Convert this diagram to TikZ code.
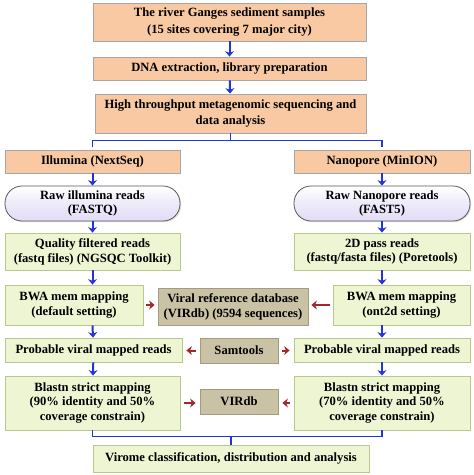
\documentclass[tikz,border=0pt]{standalone}
\usepackage{fontspec}
\setmainfont{Liberation Serif}
\usepackage{xcolor}
\usetikzlibrary{arrows.meta,shapes,calc,positioning,shadows}
\definecolor{peach}{HTML}{F8C9A2}
\definecolor{leaf}{HTML}{EEF5D2}
\definecolor{leafline}{HTML}{B9C98E}
\definecolor{lilac}{HTML}{E2DCF6}
\definecolor{khaki}{HTML}{C9C2A5}
\definecolor{khakiline}{HTML}{A39C80}
\definecolor{flowblue}{HTML}{2435D8}
\definecolor{dbred}{HTML}{A3282C}

\begin{document}
\begin{tikzpicture}[x=1pt, y=-1pt]
			\tikzstyle{every node}=[font=\fontsize{12.6}{14.8}\selectfont\bfseries, align=center, inner sep=0pt]
			\tikzstyle{big}=[font=\fontsize{12.6}{16.5}\selectfont\bfseries]
			\tikzstyle{box}=[draw, line width=0.8pt, drop shadow={opacity=0.25, shadow xshift=1.2pt, shadow yshift=-1.2pt}]
			\tikzstyle{stepbox}=[box, fill=peach, draw=gray!70]
			\tikzstyle{readbox}=[box, fill=leaf, draw=leafline]
			\tikzstyle{rawbox}=[box, rounded corners=17pt, top color=white, bottom color=lilac, middle color=lilac!60, draw=gray!70!black]
			\tikzstyle{dbbox}=[box, fill=khaki, draw=khakiline]
			\tikzstyle{flow}=[line width=2pt, flowblue, -{Stealth[length=5.5pt, width=9pt]}]
			\tikzstyle{dblink}=[line width=2pt, dbred, -{Stealth[length=5.5pt, width=9pt]}]
			\tikzstyle{bracket}=[line width=1.5pt, flowblue]
			\useasboundingbox (0,0) rectangle (474,475);
			% common trunk
			\node [stepbox, big, minimum width=273pt, minimum height=38pt] (samples) at (229.5,22) {The river Ganges sediment samples\\(15 sites covering 7 major city)};
			\node [stepbox, big, minimum width=273pt, minimum height=23pt] (dna) at (229.5,68.5) {DNA extraction, library preparation};
			\node [stepbox, big, minimum width=271pt, minimum height=39pt] (hts) at (230.5,113.5) {High throughput metagenomic sequencing and\\data analysis};
			% illumina branch
			\node [stepbox, minimum width=175pt, minimum height=23pt] (illu) at (92.5,161.5) {Illumina (NextSeq)};
			\node [rawbox, minimum width=175pt, minimum height=35pt] (rawil) at (92.5,203.5) {Raw illumina reads\\(FASTQ)};
			\node [readbox, minimum width=175pt, minimum height=37pt] (qual) at (92.5,251.5) {Quality filtered reads\\(fastq files) (NGSQC Toolkit)};
			\node [readbox, minimum width=138pt, minimum height=40pt] (bwal) at (74,305) {BWA mem mapping\\(default setting)};
			\node [readbox, minimum width=177pt, minimum height=24pt] (probl) at (93.5,350) {Probable viral mapped reads};
			\node [readbox, minimum width=175pt, minimum height=54pt] (blastl) at (92.5,403) {Blastn strict mapping\\(90\% identity and 50\%\\coverage constrain)};
			% nanopore branch
			\node [stepbox, minimum width=176pt, minimum height=23pt] (nano) at (382,161.5) {Nanopore (MinION)};
			\node [rawbox, minimum width=176pt, minimum height=35pt] (rawna) at (382,203.5) {Raw Nanopore reads\\(FAST5)};
			\node [readbox, minimum width=176pt, minimum height=37pt] (pass) at (382,251.5) {2D pass reads\\(fastq/fasta files) (Poretools)};
			\node [readbox, minimum width=137pt, minimum height=40pt] (bwar) at (401.5,305) {BWA mem mapping\\(ont2d setting)};
			\node [readbox, minimum width=176pt, minimum height=24pt] (probr) at (382,350) {Probable viral mapped reads};
			\node [readbox, minimum width=176pt, minimum height=54pt] (blastr) at (382,403) {Blastn strict mapping\\(70\% identity and 50\%\\coverage constrain)};
			% databases and tools
			\node [dbbox, minimum width=150pt, minimum height=37pt] (vdb) at (233,306.5) {Viral reference database\\(VIRdb) (9594 sequences)};
			\node [dbbox, minimum width=78pt, minimum height=25pt] (samt) at (239,350.5) {Samtools};
			\node [dbbox, minimum width=78pt, minimum height=25pt] (virdb) at (239,401.5) {VIRdb};
			\node [readbox, big, minimum width=276pt, minimum height=27pt] (virome) at (231,458.5) {Virome classification, distribution and analysis};
			% blue flow
			\draw [flow] (samples) -- (dna);
			\draw [flow] (dna) -- (hts);
			\coordinate (split) at ($(hts.south)+(0,7)$);
			\coordinate (merge) at ($(virome.north)+(0,-8)$);
			\draw [bracket] (hts.south) -- (split);
			\draw [bracket] ([yshift=3pt]illu.north) |- (split) -| ([yshift=3pt]nano.north);
			\draw [flow] (illu) -- (rawil);
			\draw [flow] (rawil) -- (qual);
			\draw [flow] (qual.south) -- (qual.south |- bwal.north);
			\draw [flow] (qual.south |- bwal.south) -- (probl);
			\draw [flow] (probl) -- (blastl);
			\draw [flow] (nano) -- (rawna);
			\draw [flow] (rawna) -- (pass);
			\draw [flow] (pass.south) -- (pass.south |- bwar.north);
			\draw [flow] (pass.south |- bwar.south) -- (probr);
			\draw [flow] (probr) -- (blastr);
			\draw [bracket] (blastl.south) |- (merge) -| (blastr.south);
			\draw [bracket] (merge) -- (virome.north);
			% red links
			\draw [dblink] ([xshift=3pt]bwal.east) -- ([xshift=-3pt]vdb.west |- bwal.east);
			\draw [dblink] ([xshift=-3pt]bwar.west) -- ([xshift=3pt]vdb.east |- bwar.west);
			\draw [dblink] ([xshift=-4pt]samt.west) -- ([xshift=4pt]probl.east |- samt.west);
			\draw [dblink] ([xshift=4pt]samt.east) -- ([xshift=-4pt]probr.west |- samt.east);
			\draw [dblink] ([xshift=4pt]blastl.east) -- ([xshift=-4pt]virdb.west |- blastl.east);
			\draw [dblink] ([xshift=-4pt]blastr.west) -- ([xshift=4pt]virdb.east |- blastr.west);
		\end{tikzpicture}
\end{document}
